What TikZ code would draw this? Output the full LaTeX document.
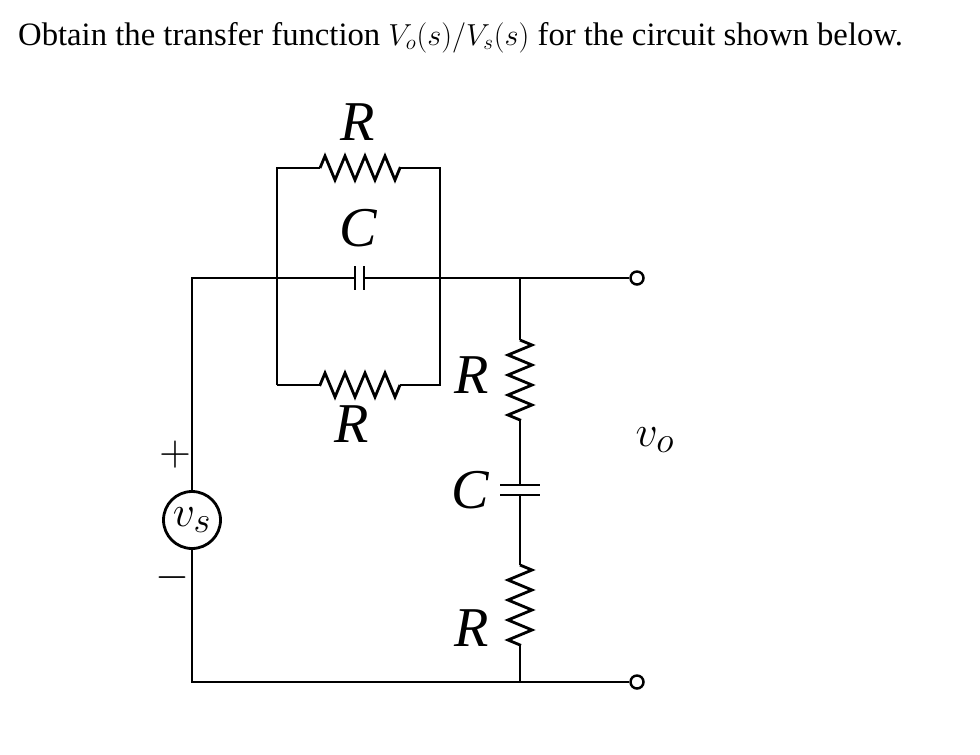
\documentclass[tikz,border=0pt]{standalone}
\usepackage{fontspec}
\setmainfont{Liberation Serif}
\usetikzlibrary{decorations.pathmorphing}
\tikzset{wire/.style={line width=1.6pt},
ohm/.style={wire, decorate, decoration={zigzag, segment length=0.4cm, amplitude=0.24cm}},
plate/.style={line width=1.6pt},
term/.style={circle, draw, line width=1.4pt, minimum size=0.26cm, inner sep=0pt, fill=white},
lbl/.style={font=\fontsize{32}{38}\selectfont\itshape}}
\begin{document}
\begin{tikzpicture}[x=0.02cm, y=-0.02cm]
\useasboundingbox (0,0) rectangle (980,754);
\node[anchor=base west, font=\fontsize{18.6}{23}\selectfont] (title) at (12,45) {Obtain the transfer function $V_o(s)/V_s(s)$ for the circuit shown below.};
% corners
\coordinate (tl) at (192,278); \coordinate (bl) at (192,682);
\coordinate (pl) at (277,278); \coordinate (pr) at (440,278);
\coordinate (ptl) at (277,168); \coordinate (ptr) at (440,168);
\coordinate (pbl) at (277,385); \coordinate (pbr) at (440,385);
\coordinate (jt) at (520,278); \coordinate (jb) at (520,682);
\node[term] (vot) at (637,278) {};
\node[term] (vob) at (637,682) {};
\node[circle, draw, line width=1.6pt, minimum size=1.14cm, inner sep=0pt] (vs) at (192,520) {\fontsize{28}{32}\selectfont$v_s$};
% source loop
\draw[wire] (vs.north) -- (tl) -- (pl);
\draw[wire] (vs.south) -- (bl) -- (vob.west);
\draw[wire] (pr) -- (vot.west);
% parallel block
\draw[wire] (pbl) -- (ptl) -- (320,168);
\draw[ohm] (320,168) -- (400,168);
\draw[wire] (400,168) -- (ptr) -- (pbr) -- (400,385);
\draw[ohm] (400,385) -- (320,385);
\draw[wire] (320,385) -- (pbl);
\draw[wire] (pl) -- (355,278) (364,278) -- (pr);
\draw[plate] (355,266) -- (355,290) (364,266) -- (364,290);
% shunt branch
\draw[wire] (jt) -- (520,340);
\draw[ohm] (520,340) -- (520,420);
\draw[wire] (520,420) -- (520,485) (520,495) -- (520,565);
\draw[plate] (500,485) -- (540,485) (500,495) -- (540,495);
\draw[ohm] (520,565) -- (520,645);
\draw[wire] (520,645) -- (jb);
% labels
\node[lbl] (r1) at (358,122) {R};
\node[lbl] (c1) at (358,228) {C};
\node[lbl] (r2) at (352,424) {R};
\node[lbl] (r3) at (472,375) {R};
\node[lbl] (c2) at (470,490) {C};
\node[lbl] (r4) at (472,628) {R};
\node[font=\fontsize{28}{32}\selectfont] (vo) at (655,440) {$v_o$};
\node[font=\fontsize{26}{30}\selectfont] (plus) at (175,455) {$+$};
\node[font=\fontsize{26}{30}\selectfont] (minus) at (172,578) {$-$};
\end{tikzpicture}
\end{document}
